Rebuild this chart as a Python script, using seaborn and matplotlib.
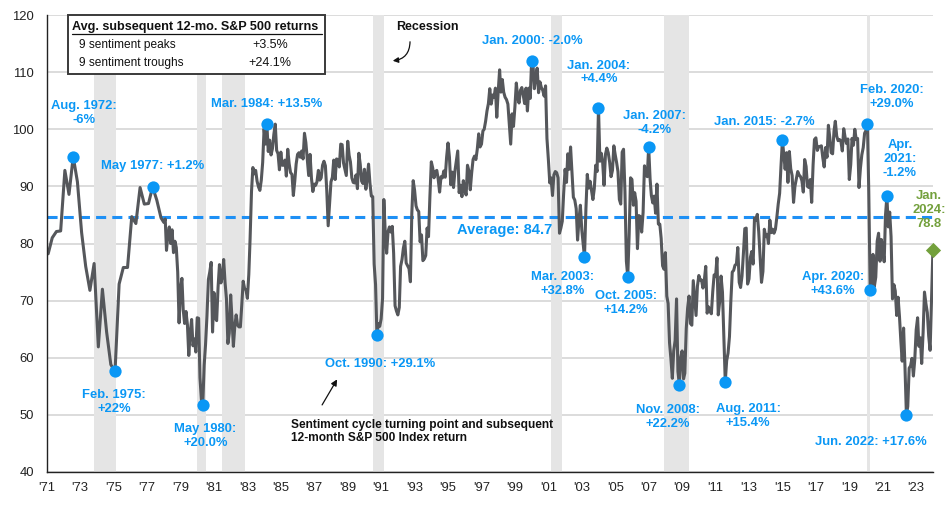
import numpy as np
import pandas as pd
import matplotlib
matplotlib.use("Agg")
import matplotlib.pyplot as plt
from matplotlib.patches import Rectangle, FancyArrowPatch
from matplotlib.lines import Line2D
import seaborn as sns

# ---------------- data ----------------
quarterly_dates = ["1971-02", "1971-05", "1971-08", "1971-11",
                   "1972-02", "1972-05", "1972-08", "1972-11",
                   "1973-02", "1973-05", "1973-08", "1973-11",
                   "1974-02", "1974-05", "1974-08", "1974-11",
                   "1975-02", "1975-05", "1975-08", "1975-11",
                   "1976-02", "1976-05", "1976-08", "1976-11",
                   "1977-02", "1977-05", "1977-08", "1977-11"]
quarterly_values = [78.2, 81.0, 82.1, 82.2,
                    92.8, 88.6, 95.2, 90.8,
                    81.9, 76.0, 71.8, 76.5,
                    61.9, 72.0, 64.5, 58.8,
                    57.6, 72.9, 75.8, 75.8,
                    84.7, 83.5, 89.8, 86.9,
                    87.0, 89.9, 87.6, 84.5]

monthly_start = "1978-01-01"
vals_1978_1989 = [
    83.7, 84.3, 78.8, 81.6, 82.9, 80.0, 82.4, 78.4, 80.4, 79.3, 75.0, 66.1,
    72.1, 73.9, 68.4, 66.0, 68.1, 65.8, 60.4, 64.5, 66.7, 62.1, 63.3, 61.0,
    67.0, 66.9, 56.5, 52.7, 51.7, 58.7, 62.3, 67.3, 73.7, 75.0, 76.7, 64.5,
    71.4, 66.9, 66.5, 72.4, 76.3, 73.1, 74.1, 77.2, 73.1, 70.3, 62.5, 64.3,
    71.0, 66.5, 62.0, 65.5, 67.5, 65.7, 65.4, 65.4, 69.3, 73.4, 72.1, 71.9,
    70.4, 74.6, 80.8, 89.1, 93.3, 92.2, 92.8, 90.9, 89.9, 89.3, 91.1, 94.2,
    100.1, 97.4, 101.0, 96.1, 98.1, 95.5, 96.6, 99.1, 100.9, 96.3, 95.7, 92.9,
    96.0, 93.7, 93.7, 94.6, 91.8, 96.5, 94.0, 92.4, 92.1, 88.4, 90.9, 93.9,
    95.6, 95.9, 95.1, 96.2, 94.8, 99.3, 97.7, 94.9, 91.9, 95.6, 91.4, 89.1,
    90.4, 90.2, 90.8, 92.8, 91.1, 91.5, 93.7, 94.4, 93.6, 89.3, 83.1, 86.8,
    90.8, 91.6, 94.6, 91.2, 94.8, 94.7, 93.4, 97.4, 97.3, 94.1, 93.0, 91.9,
    97.9, 95.4, 94.3, 91.5, 90.7, 90.6, 92.0, 89.6, 95.8, 93.9, 90.9, 90.5]
vals_1990_1999 = [
    93.0, 89.5, 91.3, 93.9, 90.6, 88.3, 88.2, 76.4, 72.8, 63.9, 66.0, 65.5,
    66.8, 70.4, 87.7, 81.8, 78.3, 82.1, 82.9, 82.0, 83.0, 78.3, 69.1, 68.2,
    67.5, 68.8, 76.0, 77.2, 79.2, 80.4, 76.6, 76.1, 75.6, 73.3, 85.3, 91.0,
    89.3, 86.6, 85.9, 85.6, 80.3, 81.5, 77.0, 77.3, 77.9, 82.7, 81.2, 88.2,
    94.3, 93.2, 91.5, 92.6, 92.8, 91.2, 89.0, 91.7, 91.5, 92.7, 91.6, 95.1,
    97.6, 95.1, 90.3, 92.5, 89.8, 92.7, 94.4, 96.2, 88.9, 90.2, 88.2, 91.0,
    89.3, 88.5, 93.7, 92.7, 89.4, 92.4, 94.7, 95.3, 94.7, 96.5, 99.2, 96.9,
    97.4, 99.7, 100.0, 101.4, 103.2, 104.5, 107.1, 104.4, 106.0, 105.6, 107.2, 102.1,
    106.6, 110.4, 106.5, 108.7, 106.5, 105.6, 105.2, 104.4, 100.9, 97.4, 102.7, 100.5,
    103.9, 108.1, 105.7, 104.6, 106.8, 107.3, 106.0, 104.5, 107.2, 103.2, 107.2, 105.4]
vals_2000_2009 = [
    112.0, 111.3, 107.1, 109.2, 110.7, 106.4, 108.3, 107.3, 106.8, 105.8, 107.6, 98.4,
    94.7, 90.6, 91.5, 88.4, 92.0, 92.6, 92.4, 91.5, 81.8, 82.7, 83.9, 88.8,
    93.0, 90.7, 95.7, 93.0, 96.9, 92.4, 88.1, 87.6, 86.1, 80.6, 84.2, 86.7,
    82.4, 79.9, 77.6, 86.0, 92.1, 89.7, 90.9, 89.3, 87.7, 89.6, 93.7, 92.6,
    103.8, 94.4, 95.8, 94.2, 90.2, 95.6, 96.7, 95.9, 94.2, 91.7, 92.8, 97.1,
    95.5, 94.1, 92.6, 87.7, 86.9, 96.0, 96.5, 89.1, 76.9, 74.2, 81.6, 91.5,
    91.2, 86.7, 88.9, 87.4, 79.1, 84.9, 84.7, 82.0, 85.4, 93.6, 92.1, 91.7,
    96.9, 91.3, 88.4, 87.1, 88.3, 85.3, 90.4, 83.4, 83.4, 80.9, 76.1, 75.5,
    78.4, 70.8, 69.5, 62.6, 59.8, 56.4, 61.2, 63.0, 70.3, 57.6, 55.3, 60.1,
    61.2, 56.3, 57.3, 65.1, 68.7, 70.8, 66.0, 65.7, 73.5, 70.6, 67.4, 72.5]
vals_2010_2019 = [
    74.4, 73.6, 73.6, 72.2, 73.6, 76.0, 67.8, 68.9, 68.2, 67.7, 71.6, 74.5,
    74.2, 77.5, 67.5, 69.8, 74.3, 71.5, 63.7, 55.8, 59.5, 60.8, 63.7, 69.9,
    75.0, 75.3, 76.2, 76.4, 79.3, 73.2, 72.3, 74.3, 78.3, 82.6, 82.7, 72.9,
    73.8, 77.6, 78.6, 76.4, 84.5, 84.1, 85.1, 82.1, 77.5, 73.2, 75.1, 82.5,
    81.2, 81.6, 80.0, 84.1, 81.9, 82.5, 81.8, 82.5, 84.6, 86.9, 88.8, 93.6,
    98.1, 95.4, 93.0, 95.9, 90.7, 96.1, 93.1, 91.9, 87.2, 90.0, 91.3, 92.6,
    92.0, 91.7, 91.0, 89.0, 94.7, 93.5, 90.0, 89.8, 91.2, 87.2, 93.8, 98.2,
    98.5, 96.3, 96.9, 97.0, 97.1, 95.0, 93.4, 96.8, 95.1, 100.7, 98.5, 95.9,
    95.7, 99.7, 101.4, 98.8, 98.0, 98.2, 97.9, 96.2, 100.1, 98.6, 97.5, 98.3,
    91.2, 93.8, 98.4, 97.2, 100.0, 98.2, 98.4, 89.8, 93.2, 95.5, 96.8, 99.3]
vals_2020_2024 = [
    99.8, 101.0, 89.1, 71.8, 72.3, 78.1, 72.5, 74.1, 80.4, 81.8, 76.9, 80.7,
    79.0, 76.8, 84.9, 88.3, 82.9, 85.5, 81.2, 70.3, 72.8, 71.7, 67.4, 70.6,
    67.2, 62.8, 59.4, 65.2, 58.4, 50.0, 51.5, 58.2, 58.6, 59.9, 56.8, 59.7,
    64.9, 67.0, 62.0, 63.5, 59.0, 64.4, 71.5, 69.5, 67.9, 63.8, 61.3, 69.7,
    78.8]

average_value = 84.7
turn_dates = ["1972-08", "1975-02", "1977-05", "1980-05", "1984-03", "1990-10",
              "2000-01", "2003-03", "2004-01", "2005-10", "2007-01", "2008-11",
              "2011-08", "2015-01", "2020-02", "2020-04", "2021-04", "2022-06"]
turn_labels = ["Aug. 1972:\n-6%", "Feb. 1975:\n+22%", "May 1977: +1.2%",
               "May 1980:\n+20.0%", "Mar. 1984: +13.5%", "Oct. 1990: +29.1%",
               "Jan. 2000: -2.0%", "Mar. 2003:\n+32.8%", "Jan. 2004:\n+4.4%",
               "Oct. 2005:\n+14.2%", "Jan. 2007:\n-4.2%", "Nov. 2008:\n+22.2%",
               "Aug. 2011:\n+15.4%", "Jan. 2015: -2.7%", "Feb. 2020:\n+29.0%",
               "Apr. 2020:\n+43.6%", "Apr.\n2021:\n-1.2%", "Jun. 2022: +17.6%"]
latest_date = "2024-01"
latest_label = "Jan.\n2024:\n78.8"
recession_starts = ["1973-11", "1980-01", "1981-07", "1990-07", "2001-03", "2007-12", "2020-02"]
recession_ends = ["1975-03", "1980-07", "1982-11", "1991-03", "2001-11", "2009-06", "2020-04"]
table_title = "Avg. subsequent 12-mo. S&P 500 returns"
table_rows = ["9 sentiment peaks", "9 sentiment troughs"]
table_values = ["+3.5%", "+24.1%"]
tick_years = list(range(1971, 2024, 2))
y_ticks = [40, 50, 60, 70, 80, 90, 100, 110, 120]

# ---------------- layout (offsets, in points) ----------------
label_offsets = [(7.8, 31.5), (-0.7, -22.0), (0, 15.4), (1.9, -22.2), (0, 14.2),
                 (2.1, -20.7), (0.3, 14.5), (-15.5, -19.2), (0.4, 25.3),
                 (-1.2, -18.9), (3.9, 17.4), (-8.1, -23.3), (16.4, -24.6),
                 (-13.1, 13.3), (17.7, 19.2), (-26.8, 4.6), (9.4, 26.6), (-25.5, -19.3)]

BLUE = "#0A97F5"
GREEN = "#73A03C"
LINE = "#55575B"
FONT = "Liberation Sans"

# ---------------- build frame ----------------
monthly_vals = vals_1978_1989 + vals_1990_1999 + vals_2000_2009 + vals_2010_2019 + vals_2020_2024
dates = list(pd.to_datetime(quarterly_dates)) + list(
    pd.date_range(monthly_start, periods=len(monthly_vals), freq="MS"))
df = pd.DataFrame({"date": dates, "sentiment": quarterly_values + monthly_vals})
series = df.set_index("date")["sentiment"]

turn_df = pd.DataFrame({"date": pd.to_datetime(turn_dates)})
turn_df["sentiment"] = series.loc[turn_df["date"]].values
latest_ts = pd.Timestamp(latest_date)
latest_df = pd.DataFrame({"date": [latest_ts], "sentiment": [series.loc[latest_ts]]})

# ---------------- plotting ----------------
sns.set_theme(style="white")
plt.rcParams["font.family"] = [FONT, "DejaVu Sans"]

fig = plt.figure(figsize=(9.5, 5.09), dpi=100)
ax = fig.add_axes([0.0492, 0.0727, 0.9328, 0.8978])

for s, e in zip(recession_starts, recession_ends):
    ax.axvspan(pd.Timestamp(s), pd.Timestamp(e), color="#e5e5e5", lw=0, zorder=1)

ax.axhline(average_value, color="#1E90F5", lw=2.2, ls=(0, (3.3, 2.0)), zorder=2)

sns.lineplot(data=df, x="date", y="sentiment", ax=ax, color=LINE, lw=2.2,
             zorder=3, estimator=None, sort=False)
sns.scatterplot(data=turn_df, x="date", y="sentiment", ax=ax, color=BLUE, s=78,
                linewidth=0, zorder=5, clip_on=False)
sns.scatterplot(data=latest_df, x="date", y="sentiment", ax=ax, color=GREEN, marker="D",
                s=60, linewidth=0, zorder=5, clip_on=False)

ax.set_xlim(pd.Timestamp("1971-01-01"), pd.Timestamp("2024-01-01"))
ax.set_ylim(40, 120)
ax.set_yticks(y_ticks)
ax.set_yticklabels([str(v) for v in y_ticks], fontsize=9.4, color="#222222")
xt = [pd.Timestamp(f"{y}-01-01") for y in tick_years]
ax.set_xticks(xt)
ax.set_xticklabels([f"'{y % 100:02d}" for y in tick_years], fontsize=9.4, color="#222222")
ax.tick_params(axis="y", length=0, pad=9)
ax.tick_params(axis="x", length=3.5, width=0.9, color="#222222", pad=4, direction="out")
ax.set_xlabel("")
ax.set_ylabel("")
ax.yaxis.grid(True, color="#d6d6d6", lw=1.2)
ax.set_axisbelow(True)
for sp in ["top", "right"]:
    ax.spines[sp].set_visible(False)
for sp in ["left", "bottom"]:
    ax.spines[sp].set_color("#222222")
    ax.spines[sp].set_linewidth(1.0)
    ax.spines[sp].set_zorder(6)

# turning point labels
for (d, v), lab, off in zip(turn_df[["date", "sentiment"]].values, turn_labels, label_offsets):
    ax.annotate(lab, xy=(d, v), xytext=off, textcoords="offset points",
                ha="center", va="center", multialignment="center",
                fontsize=9.4, fontweight="bold", color=BLUE, zorder=7)
ax.annotate(latest_label, xy=(latest_ts, series.loc[latest_ts]), xytext=(-2.8, 29.2),
            textcoords="offset points", ha="center", va="center", multialignment="center",
            fontsize=9.4, fontweight="bold", color=GREEN, zorder=7, annotation_clip=False)
ax.annotate(f"Average: {average_value}", xy=(pd.Timestamp("1998-06-01"), average_value),
            xytext=(0, -9.5), textcoords="offset points", ha="center", va="center",
            fontsize=10.5, fontweight="bold", color=BLUE, zorder=7)

# ---------------- figure-level annotations ----------------
W, H = 950.0, 509.0
def fx(px):
    return px / W
def fy(py):
    return 1 - py / H

box = Rectangle((fx(68.3), fy(74)), fx(325) - fx(68.3), fy(15) - fy(74),
                transform=fig.transFigure, facecolor="white", edgecolor="#3a3a3a",
                lw=1.4, zorder=10)
fig.patches.append(box)
fig.lines.append(Line2D([fx(71.7), fx(322)], [fy(33.5), fy(33.5)], transform=fig.transFigure,
                        color="#111111", lw=0.9, zorder=11))
fig.text(fx(71.5), fy(26.7), table_title, ha="left", va="center", fontsize=9.1,
         fontweight="bold", color="#111111", zorder=11)
for i, (r, v) in enumerate(zip(table_rows, table_values)):
    yy = fy(45.0 + i * 17.7)
    fig.text(fx(79.3), yy, r, ha="left", va="center", fontsize=8.6, color="#111111", zorder=11)
    fig.text(fx(270), yy, v, ha="center", va="center", fontsize=9.0, color="#111111", zorder=11)

fig.text(fx(427), fy(27.3), "Recession", ha="center", va="center", fontsize=9.0,
         fontweight="bold", color="#111111")
fig.patches.append(FancyArrowPatch((fx(410), fy(39)), (fx(390), fy(61)),
                                   transform=fig.transFigure, connectionstyle="arc3,rad=-0.5",
                                   arrowstyle="-|>", mutation_scale=8, color="#111111", lw=0.9))

fig.text(fx(291), fy(431.5), "Sentiment cycle turning point and subsequent\n12-month S&P 500 Index return",
         ha="left", va="center", fontsize=8.6, fontweight="bold", color="#111111",
         linespacing=1.2)
fig.patches.append(FancyArrowPatch((fx(320.7), fy(407.3)), (fx(338.5), fy(377)),
                                   transform=fig.transFigure, arrowstyle="-|>",
                                   mutation_scale=9, color="#111111", lw=0.9))

fig.savefig("out.png", dpi=100)
